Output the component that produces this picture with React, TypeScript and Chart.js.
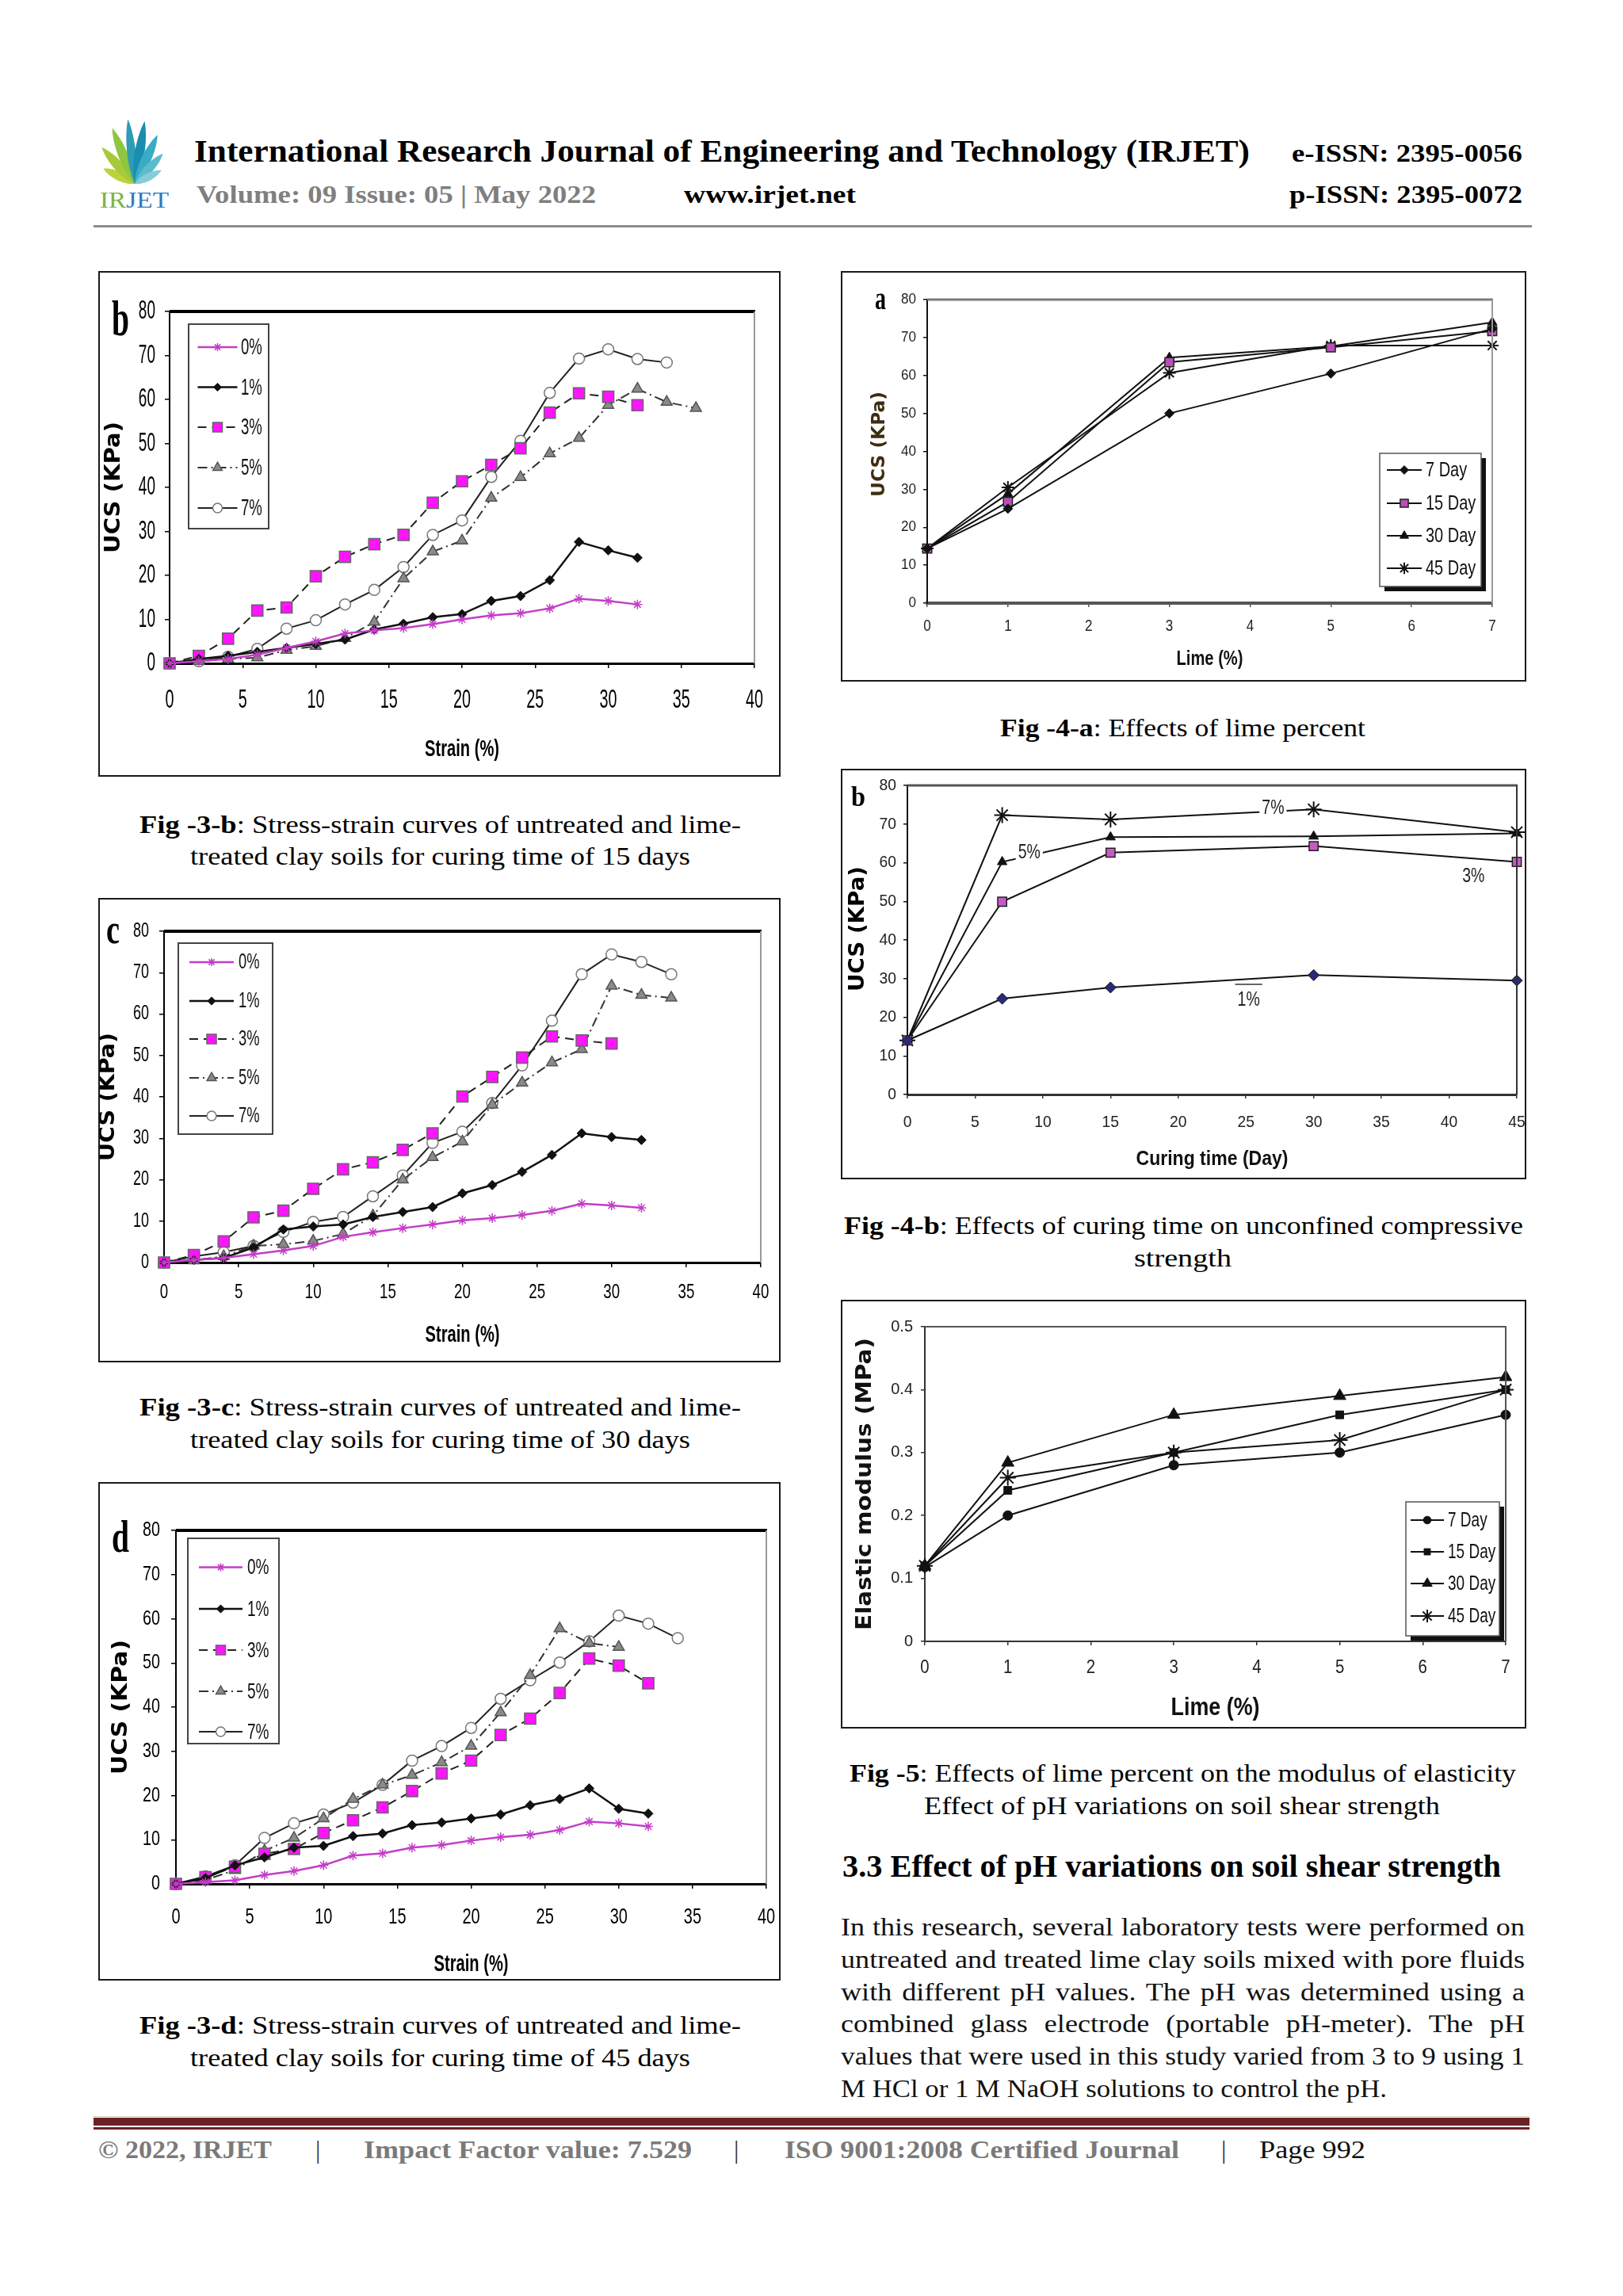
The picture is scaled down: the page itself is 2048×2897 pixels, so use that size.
import React, { useEffect, useLayoutEffect, useRef } from 'react';
import { Chart, registerables } from 'chart.js';

Chart.register(...registerables);

const LSANS = "'Liberation Sans', 'Noto Sans', sans-serif";
const BOLDSANS = "'DejaVu Sans', 'Liberation Sans', sans-serif";
const SERIF = "'Liberation Serif', 'DejaVu Serif', serif";

// ---------------- DATA ----------------
const STRAIN = [0, 2, 4, 6, 8, 10, 12, 14, 16, 18, 20, 22, 24, 26, 28, 30, 32, 34, 36];
const LIME_SERIES = ['0%', '1%', '3%', '5%', '7%'];

// Fig 3-b (15 days)
const F3B_0 = [0, 0.5, 1, 2, 3.5, 5, 6.8, 7.5, 8, 8.9, 10, 10.9, 11.4, 12.5, 14.7, 14.2, 13.4];
const F3B_1 = [0, 1, 1.7, 2.6, 3.5, 4.4, 5.4, 7.7, 9, 10.5, 11.2, 14.2, 15.3, 18.9, 27.6, 25.7, 24];
const F3B_3 = [0, 1.7, 5.6, 12, 12.7, 19.8, 24.2, 27.1, 29.2, 36.5, 41.4, 45.1, 48.9, 57, 61.4, 60.6, 58.7];
const F3B_5 = [0, 0.5, 1, 1.3, 3, 3.9, 5.7, 9.4, 19.3, 25.4, 27.9, 37.6, 42.3, 47.7, 51.2, 58.7, 62.4, 59.4, 58];
const F3B_7 = [0, 0.5, 1.5, 3.3, 7.9, 9.8, 13.4, 16.7, 21.9, 29.2, 32.5, 42.4, 50.6, 61.5, 69.3, 71.4, 69.2, 68.4];

// Fig 3-c (30 days)
const F3C_0 = [0, 0.6, 1.1, 2, 2.9, 4, 6.2, 7.3, 8.3, 9.2, 10.2, 10.7, 11.5, 12.5, 14.2, 13.8, 13.2];
const F3C_1 = [0, 0.6, 1.1, 3.6, 8, 8.7, 9.2, 11, 12.2, 13.4, 16.7, 18.7, 21.9, 26, 31.2, 30.3, 29.6];
const F3C_3 = [0, 1.8, 5.1, 10.9, 12.5, 17.8, 22.5, 24.2, 27.2, 31.2, 40.1, 44.8, 49.5, 54.6, 53.6, 52.9];
const F3C_5 = [0, 0.5, 1.5, 4, 4.4, 5.2, 6.9, 11.3, 20, 25.4, 29.2, 38.1, 43.4, 48.3, 51.5, 66.8, 64.6, 63.9];
const F3C_7 = [0, 1.5, 2.5, 4, 7.4, 9.8, 11, 16, 21, 28.9, 31.6, 38.5, 47.6, 58.4, 69.6, 74.4, 72.6, 69.6];

// Fig 3-d (45 days)
const F3D_0 = [0, 0.4, 0.8, 2, 2.9, 4.2, 6.4, 6.9, 8.2, 8.8, 9.8, 10.6, 11.1, 12.2, 14.1, 13.7, 13];
const F3D_1 = [0, 1.3, 4.2, 6, 8.2, 8.6, 10.8, 11.4, 13.3, 13.9, 14.8, 15.7, 17.8, 19.2, 21.6, 17, 15.9];
const F3D_3 = [0, 1.5, 3.9, 6.8, 7.9, 11.5, 14.4, 17.3, 21, 25, 27.9, 33.7, 37.4, 43.2, 51, 49.4, 45.4];
const F3D_5 = [0, 0.9, 3.1, 7.5, 10.4, 14.8, 19.2, 22.4, 24.6, 27.5, 31.2, 38.8, 47.2, 57.8, 54.5, 53.6];
const F3D_7 = [0, 1.7, 4.2, 10.4, 13.7, 15.7, 18.4, 22.4, 27.9, 31.2, 35.3, 41.9, 46.1, 50.1, 54.9, 60.7, 58.9, 55.6];

// Fig 4-a (UCS vs lime)
const LIME_X = [0, 1, 3, 5, 7];
const DAY_SERIES = ['7 Day', '15 Day', '30 Day', '45 Day'];
const F4A_7 = [14.4, 24.9, 50, 60.5, 72.3];
const F4A_15 = [14.4, 26.7, 63.5, 67.4, 71.7];
const F4A_30 = [14.4, 28.8, 64.7, 67.7, 74];
const F4A_45 = [14.4, 30.5, 60.7, 67.9, 67.9];

// Fig 4-b (UCS vs curing time)
const CURING_X = [0, 7, 15, 30, 45];
const CURING_SERIES = ['1%', '3%', '5%', '7%'];
const F4B_1 = [14, 24.8, 27.7, 30.9, 29.5];
const F4B_3 = [14, 49.9, 62.6, 64.3, 60.2];
const F4B_5 = [14, 60.2, 66.6, 66.8, 67.6];
const F4B_7 = [14, 72.3, 71.2, 73.8, 67.9];
const F4B_NOTE_TEXT = ['7%', '5%', '3%', '1%'];
const F4B_NOTE_X = [27, 9, 41.8, 25.2];
const F4B_NOTE_Y = [74, 62.6, 56.3, 24.4];

// Fig 5 (elastic modulus vs lime)
const F5_7 = [0.118, 0.2, 0.28, 0.3, 0.36];
const F5_15 = [0.12, 0.24, 0.3, 0.36, 0.4];
const F5_30 = [0.12, 0.284, 0.36, 0.39, 0.42];
const F5_45 = [0.12, 0.26, 0.3, 0.32, 0.4];

// ---------------- STYLES ----------------
type Sty = { color: string; width: number; dash: number[]; point: string; r: number; fill: string; stroke: string; pw: number };
const FIG3_STY: Sty[] = [
  { color: '#c23ec6', width: 2.5, dash: [], point: 'star', r: 6, fill: '#c23ec6', stroke: '#c23ec6', pw: 1.5 },
  { color: '#111', width: 2.5, dash: [], point: 'rectRot', r: 6, fill: '#111', stroke: '#111', pw: 1 },
  { color: '#222', width: 2, dash: [11, 7], point: 'rect', r: 10, fill: '#ff14ff', stroke: '#666', pw: 1.5 },
  { color: '#333', width: 2, dash: [12, 5, 2, 5], point: 'triangle', r: 8, fill: '#8a8a8a', stroke: '#555', pw: 1.5 },
  { color: '#222', width: 2, dash: [], point: 'circle', r: 7, fill: '#fff', stroke: '#777', pw: 1.5 },
];
const FIG4A_STY: Sty[] = [
  { color: '#111', width: 2, dash: [], point: 'rectRot', r: 6, fill: '#111', stroke: '#111', pw: 1 },
  { color: '#111', width: 2, dash: [], point: 'rect', r: 8, fill: '#b84fb8', stroke: '#222', pw: 1.5 },
  { color: '#111', width: 2, dash: [], point: 'triangle', r: 7, fill: '#111', stroke: '#111', pw: 1 },
  { color: '#111', width: 2, dash: [], point: 'star', r: 8, fill: '#111', stroke: '#111', pw: 2 },
];
const FIG4B_STY: Sty[] = [
  { color: '#111', width: 2, dash: [], point: 'rectRot', r: 7, fill: '#2a2a7a', stroke: '#111', pw: 1 },
  { color: '#111', width: 2, dash: [], point: 'rect', r: 8, fill: '#c65ac6', stroke: '#222', pw: 1.5 },
  { color: '#111', width: 2, dash: [], point: 'triangle', r: 7, fill: '#111', stroke: '#111', pw: 1 },
  { color: '#111', width: 2, dash: [], point: 'star', r: 10, fill: '#111', stroke: '#111', pw: 2 },
];
const FIG5_STY: Sty[] = [
  { color: '#111', width: 2, dash: [], point: 'circle', r: 6, fill: '#111', stroke: '#111', pw: 1 },
  { color: '#111', width: 2, dash: [], point: 'rect', r: 7, fill: '#111', stroke: '#111', pw: 1 },
  { color: '#111', width: 2, dash: [], point: 'triangle', r: 9, fill: '#111', stroke: '#111', pw: 1 },
  { color: '#111', width: 2, dash: [], point: 'star', r: 10, fill: '#111', stroke: '#111', pw: 2 },
];

function mkSets(xs: number[], ys: number[][], labels: string[], sty: Sty[]) {
  return ys.map((vals, i) => ({
    label: labels[i],
    data: vals.map((v, j) => ({ x: xs[j], y: v })),
    borderColor: sty[i].color,
    borderWidth: sty[i].width,
    borderDash: sty[i].dash,
    pointStyle: sty[i].point,
    pointRadius: sty[i].r,
    pointBackgroundColor: sty[i].fill,
    pointBorderColor: sty[i].stroke,
    pointBorderWidth: sty[i].pw,
    fill: false,
    tension: 0,
    showLine: true,
    clip: false,
  }));
}

// ---------------- PLUGINS ----------------
function drawMarker(ctx: any, style: string, x: number, y: number, r: number, fill: string, stroke: string, lw: number) {
  ctx.save();
  ctx.setLineDash([]);
  ctx.fillStyle = fill;
  ctx.strokeStyle = stroke;
  ctx.lineWidth = lw;
  ctx.beginPath();
  const s = r * Math.SQRT1_2;
  if (style === 'circle') {
    ctx.arc(x, y, r, 0, Math.PI * 2);
    ctx.fill(); ctx.stroke();
  } else if (style === 'rect') {
    ctx.rect(x - s, y - s, 2 * s, 2 * s);
    ctx.fill(); ctx.stroke();
  } else if (style === 'rectRot') {
    ctx.moveTo(x - r, y); ctx.lineTo(x, y - r); ctx.lineTo(x + r, y); ctx.lineTo(x, y + r); ctx.closePath();
    ctx.fill(); ctx.stroke();
  } else if (style === 'triangle') {
    let a = 0;
    ctx.moveTo(x + Math.sin(a) * r, y - Math.cos(a) * r);
    a += (2 * Math.PI) / 3; ctx.lineTo(x + Math.sin(a) * r, y - Math.cos(a) * r);
    a += (2 * Math.PI) / 3; ctx.lineTo(x + Math.sin(a) * r, y - Math.cos(a) * r);
    ctx.closePath();
    ctx.fill(); ctx.stroke();
  } else if (style === 'star') {
    ctx.moveTo(x - r, y); ctx.lineTo(x + r, y);
    ctx.moveTo(x, y - r); ctx.lineTo(x, y + r);
    ctx.moveTo(x - s, y - s); ctx.lineTo(x + s, y + s);
    ctx.moveTo(x + s, y - s); ctx.lineTo(x - s, y + s);
    ctx.stroke();
  }
  ctx.restore();
}

const framePlugin = {
  id: 'frame',
  afterDatasetsDraw(chart: any, _a: any, o: any) {
    if (!o || !o.top) return;
    const { left, right, top, bottom } = chart.chartArea;
    const ctx = chart.ctx;
    ctx.save();
    ctx.setLineDash([]);
    ctx.strokeStyle = o.top[0]; ctx.lineWidth = o.top[1];
    ctx.beginPath(); ctx.moveTo(left, top); ctx.lineTo(right + o.right[1] / 2, top); ctx.stroke();
    ctx.strokeStyle = o.right[0]; ctx.lineWidth = o.right[1];
    ctx.beginPath(); ctx.moveTo(right, top); ctx.lineTo(right, bottom); ctx.stroke();
    ctx.restore();
  },
};

// Draws tick labels (condensed, at the library's tick positions) and axis titles
const axisTextPlugin = {
  id: 'axisText',
  afterDraw(chart: any, _a: any, o: any) {
    if (!o) return;
    const ctx = chart.ctx;
    const ca = chart.chartArea;
    ['x', 'y'].forEach((k) => {
      const sc = chart.scales[k];
      const tk = o.ticks[k];
      ctx.save();
      ctx.font = tk.font; ctx.fillStyle = tk.color; ctx.textBaseline = 'middle';
      ctx.textAlign = k === 'x' ? 'center' : 'right';
      sc.ticks.forEach((t: any) => {
        const p = sc.getPixelForValue(t.value);
        const label = String(t.label);
        ctx.save();
        if (k === 'x') ctx.translate(p, ca.bottom + tk.off);
        else ctx.translate(ca.left - tk.off, p);
        ctx.scale(tk.sx, 1);
        ctx.fillText(label, 0, 0);
        ctx.restore();
      });
      ctx.restore();

      const t = o.titles[k];
      ctx.save();
      ctx.font = t.font; ctx.fillStyle = t.color; ctx.textAlign = 'center'; ctx.textBaseline = 'middle';
      const m = ctx.measureText(t.text).width;
      const sx = t.w ? t.w / m : 1;
      if (k === 'x') {
        ctx.translate((ca.left + ca.right) / 2 + (t.d || 0), t.c);
      } else {
        ctx.translate(t.c, (ca.top + ca.bottom) / 2 + (t.d || 0));
        ctx.rotate(-Math.PI / 2);
      }
      ctx.scale(sx, 1);
      ctx.fillText(t.text, 0, 0);
      ctx.restore();
    });
  },
};

const legendPlugin = {
  id: 'boxLegend',
  afterDraw(chart: any, _a: any, o: any) {
    if (!o || !o.show) return;
    const ctx = chart.ctx;
    const ca = chart.chartArea;
    const x0 = ca.left + o.dx, y0 = ca.top + o.dy;
    ctx.save();
    if (o.shadow) { ctx.fillStyle = '#111'; ctx.fillRect(x0 + o.shadow, y0 + o.shadow, o.w, o.h); }
    ctx.fillStyle = '#fff'; ctx.fillRect(x0, y0, o.w, o.h);
    ctx.strokeStyle = o.border; ctx.lineWidth = o.bw; ctx.strokeRect(x0, y0, o.w, o.h);
    chart.data.datasets.forEach((ds: any, i: number) => {
      const y = y0 + o.rows[i];
      ctx.save();
      ctx.strokeStyle = ds.borderColor; ctx.lineWidth = ds.borderWidth; ctx.setLineDash(ds.borderDash || []);
      ctx.beginPath(); ctx.moveTo(x0 + o.lx0, y); ctx.lineTo(x0 + o.lx1, y); ctx.stroke();
      ctx.restore();
      drawMarker(ctx, ds.pointStyle, x0 + (o.lx0 + o.lx1) / 2, y, ds.pointRadius * o.ms, ds.pointBackgroundColor, ds.pointBorderColor, ds.pointBorderWidth);
      ctx.save();
      ctx.fillStyle = o.color; ctx.font = o.font; ctx.textBaseline = 'middle'; ctx.textAlign = 'left';
      ctx.translate(x0 + o.tx, y + 1);
      ctx.scale(o.lsx, 1);
      ctx.fillText(ds.label, 0, 0);
      ctx.restore();
    });
    ctx.restore();
  },
};

const notesPlugin = {
  id: 'notes',
  afterDatasetsDraw(chart: any, _a: any, o: any) {
    if (!o || !o.items || !o.items.length) return;
    const ctx = chart.ctx;
    const xs = chart.scales.x, ys = chart.scales.y;
    ctx.save();
    ctx.font = o.font; ctx.textAlign = 'center'; ctx.textBaseline = 'middle';
    o.items.forEach((it: any) => {
      const px = xs.getPixelForValue(it.x), py = ys.getPixelForValue(it.y);
      const w = ctx.measureText(it.text).width * o.sx;
      if (it.bg) { ctx.fillStyle = '#fff'; ctx.fillRect(px - w / 2 - 3, py - o.size * 0.55, w + 6, o.size * 1.1); }
      ctx.save();
      ctx.fillStyle = o.color;
      ctx.translate(px, py);
      ctx.scale(o.sx, 1);
      ctx.fillText(it.text, 0, 0);
      ctx.restore();
      if (it.over) {
        ctx.strokeStyle = '#333'; ctx.lineWidth = 1.5;
        ctx.beginPath(); ctx.moveTo(px - w / 2 - 3, py - o.size * 0.8); ctx.lineTo(px + w / 2 + 3, py - o.size * 0.8); ctx.stroke();
      }
    });
    ctx.restore();
  },
};

// ---------------- CHART SPECS ----------------
type Axis = {
  min: number; max: number; step: number; fmt?: (v: number) => string;
  tickSize: number; tickSx: number; tickOff: number; tl: number; border: [string, number]; tickColor: string;
  title: string; titleFont: string; titleColor: string; titleC: number; titleW: number; titleD?: number;
};
type Spec = {
  id: string; box: [number, number, number, number]; plot: [number, number, number, number];
  x: Axis; y: Axis; datasets: any[]; frame: any; legend?: any; notes?: any;
};

function buildConfig(s: Spec): any {
  const [L, T0, W, H] = s.box;
  const [pl, pt, pr, pb] = s.plot;
  const yw = pl - L;
  const xh = H - (pb - T0);
  const axis = (a: Axis, isX: boolean) => ({
    type: 'linear',
    position: isX ? 'bottom' : 'left',
    min: a.min,
    max: a.max,
    ticks: {
      stepSize: a.step, autoSkip: false, maxRotation: 0, minRotation: 0, padding: 4, color: 'rgba(0,0,0,0)',
      font: { family: LSANS, size: a.tickSize, lineHeight: 1 },
      callback: (v: number) => (a.fmt ? a.fmt(v) : String(Math.round(v * 1000) / 1000)),
    },
    grid: { display: true, drawOnChartArea: false, drawTicks: true, tickLength: a.tl, color: a.border[0], lineWidth: 1.5 },
    border: { display: true, color: a.border[0], width: a.border[1] },
    title: { display: false },
    afterFit: (sc: any) => {
      if (isX) sc.height = xh; else sc.width = yw;
      sc.paddingLeft = 0; sc.paddingRight = 0; sc.paddingTop = 0; sc.paddingBottom = 0;
    },
  });
  const tickOpt = (a: Axis) => ({ font: `${a.tickSize}px ${LSANS}`, color: a.tickColor, sx: a.tickSx, off: a.tickOff });
  const titleOpt = (a: Axis, c: number) => ({ text: a.title, font: a.titleFont, color: a.titleColor, c, w: a.titleW, d: a.titleD || 0 });
  return {
    type: 'scatter',
    data: { datasets: s.datasets },
    options: {
      responsive: false,
      animation: false,
      devicePixelRatio: 1,
      events: [],
      layout: { padding: { left: 0, top: pt - T0, right: L + W - pr, bottom: 0 } },
      scales: { x: axis(s.x, true), y: axis(s.y, false) },
      plugins: {
        legend: { display: false },
        tooltip: { enabled: false },
        frame: s.frame,
        axisText: {
          ticks: { x: tickOpt(s.x), y: tickOpt(s.y) },
          titles: { x: titleOpt(s.x, s.x.titleC - T0), y: titleOpt(s.y, s.y.titleC - L) },
        },
        boxLegend: s.legend || { show: false },
        notes: s.notes || { items: [] },
      },
    },
    plugins: [framePlugin, axisTextPlugin, legendPlugin, notesPlugin],
  };
}

const fig3X = (titleC: number, size: number, sx: number, off: number): Axis => ({
  min: 0, max: 40, step: 5, tickSize: size, tickSx: sx, tickOff: off, tl: 6, border: ['#000', 3], tickColor: '#000',
  title: 'Strain (%)', titleFont: `bold 30px ${LSANS}`, titleColor: '#000', titleC, titleW: 94,
});
const fig3Y = (titleC: number, size: number, w: number, tsize: number, sx: number, off: number): Axis => ({
  min: 0, max: 80, step: 10, tickSize: tsize, tickSx: sx, tickOff: off, tl: 6, border: ['#000', 2], tickColor: '#000',
  title: 'UCS (KPa)', titleFont: `bold ${size}px ${BOLDSANS}`, titleColor: '#000', titleC, titleW: w,
});
const fig3Legend = (dx: number, dy: number, w: number, h: number, rows: number[], lx0: number, lx1: number, tx: number, fs: number, lsx: number) => ({
  show: true, dx, dy, w, h, rows, lx0, lx1, tx, ms: 0.85, border: '#444', bw: 2, shadow: 0, color: '#111',
  font: `${fs}px ${LSANS}`, lsx,
});
const FIG3_FRAME = { top: ['#000', 4], right: ['#9a9a9a', 2] };

const SPECS: Spec[] = [
  {
    id: 'f3b', box: [124, 342, 861, 638], plot: [214, 393, 952, 837],
    x: fig3X(946, 33, 0.6, 47), y: fig3Y(144, 26, 166, 34, 0.56, 18),
    datasets: mkSets(STRAIN, [F3B_0, F3B_1, F3B_3, F3B_5, F3B_7], LIME_SERIES, FIG3_STY),
    frame: FIG3_FRAME,
    legend: fig3Legend(24, 16, 101, 258, [29, 79.5, 130, 181, 232], 11.5, 61.5, 66, 30, 0.62),
  },
  {
    id: 'f3c', box: [124, 1133, 861, 586], plot: [207, 1175, 960, 1593],
    x: fig3X(1685, 26, 0.72, 38), y: fig3Y(137, 26, 162, 25, 0.72, 19),
    datasets: mkSets(STRAIN, [F3C_0, F3C_1, F3C_3, F3C_5, F3C_7], LIME_SERIES, FIG3_STY),
    frame: FIG3_FRAME,
    legend: fig3Legend(18, 15, 119, 241, [24, 73, 121, 170, 218], 14, 70, 76, 27, 0.68),
  },
  {
    id: 'f3d', box: [124, 1870, 861, 629], plot: [222, 1931, 967, 2377],
    x: fig3X(2479, 27, 0.74, 43), y: fig3Y(153, 27, 170, 26, 0.76, 20),
    datasets: mkSets(STRAIN, [F3D_0, F3D_1, F3D_3, F3D_5, F3D_7], LIME_SERIES, FIG3_STY),
    frame: FIG3_FRAME,
    legend: fig3Legend(15, 10, 115, 259, [36.5, 89, 141, 193, 244], 14, 69, 75, 28, 0.68),
  },
  {
    id: 'f4a', box: [1061, 342, 865, 518], plot: [1170, 378, 1883, 761],
    x: {
      min: 0, max: 7, step: 1, tickSize: 20, tickSx: 0.85, tickOff: 29, tl: 5, border: ['#555', 4], tickColor: '#222',
      title: 'Lime (%)', titleFont: `bold 25px ${LSANS}`, titleColor: '#111', titleC: 832, titleW: 84,
    },
    y: {
      min: 0, max: 80, step: 10, tickSize: 19, tickSx: 0.9, tickOff: 14, tl: 5, border: ['#111', 2], tickColor: '#222',
      title: 'UCS (KPa)', titleFont: `bold 23px ${BOLDSANS}`, titleColor: '#3d2e12', titleC: 1110, titleW: 133, titleD: -9,
    },
    datasets: mkSets(LIME_X, [F4A_7, F4A_15, F4A_30, F4A_45], DAY_SERIES, FIG4A_STY),
    frame: { top: ['#7a7a7a', 3], right: ['#999', 2] },
    legend: {
      show: true, dx: 571, dy: 194, w: 128, h: 168, rows: [21, 63, 104, 145], lx0: 9, lx1: 53, tx: 58, ms: 0.9,
      border: '#555', bw: 1.5, shadow: 6, color: '#111', font: `25px ${LSANS}`, lsx: 0.8,
    },
  },
  {
    id: 'f4b', box: [1061, 970, 865, 518], plot: [1145, 991, 1917, 1381],
    x: {
      min: 0, max: 45, step: 5, tickSize: 21, tickSx: 0.92, tickOff: 35, tl: 5, border: ['#333', 3], tickColor: '#222',
      title: 'Curing time (Day)', titleFont: `bold 26px ${LSANS}`, titleColor: '#111', titleC: 1463, titleW: 192,
    },
    y: {
      min: 0, max: 80, step: 10, tickSize: 21, tickSx: 0.92, tickOff: 14, tl: 5, border: ['#111', 2], tickColor: '#222',
      title: 'UCS (KPa)', titleFont: `bold 27px ${BOLDSANS}`, titleColor: '#000', titleC: 1083, titleW: 158, titleD: -14,
    },
    datasets: mkSets(CURING_X, [F4B_1, F4B_3, F4B_5, F4B_7], CURING_SERIES, FIG4B_STY),
    frame: { top: ['#555', 3], right: ['#333', 2] },
    notes: {
      font: `25px ${LSANS}`, size: 25, sx: 0.78, color: '#222',
      items: F4B_NOTE_TEXT.map((t, i) => ({ text: t, x: F4B_NOTE_X[i], y: F4B_NOTE_Y[i], bg: i < 2, over: i === 3 })),
    },
  },
  {
    id: 'f5', box: [1061, 1640, 865, 541], plot: [1167, 1674, 1900, 2071],
    x: {
      min: 0, max: 7, step: 1, tickSize: 24, tickSx: 0.85, tickOff: 33, tl: 5, border: ['#333', 2], tickColor: '#222',
      title: 'Lime (%)', titleFont: `bold 31px ${LSANS}`, titleColor: '#111', titleC: 2155, titleW: 112,
    },
    y: {
      min: 0, max: 0.5, step: 0.1, fmt: (v: number) => (Math.abs(v) < 1e-9 ? '0' : v.toFixed(1)),
      tickSize: 20, tickSx: 1, tickOff: 15, tl: 5, border: ['#333', 2], tickColor: '#222',
      title: 'Elastic modulus (MPa)', titleFont: `bold 27px ${BOLDSANS}`, titleColor: '#111', titleC: 1092, titleW: 369,
    },
    datasets: mkSets(LIME_X, [F5_7, F5_15, F5_30, F5_45], DAY_SERIES, FIG5_STY),
    frame: { top: ['#555', 2], right: ['#555', 2] },
    legend: {
      show: true, dx: 607, dy: 221, w: 118, h: 169, rows: [23, 63, 103, 144], lx0: 6, lx1: 48, tx: 53, ms: 0.8,
      border: '#555', bw: 1.5, shadow: 6, color: '#111', font: `25px ${LSANS}`, lsx: 0.76,
    },
  },
];

// ---------------- COMPONENTS ----------------
function ChartPanel({ spec }: { spec: Spec }) {
  const ref = useRef<HTMLCanvasElement>(null);
  useEffect(() => {
    const c = new Chart(ref.current as HTMLCanvasElement, buildConfig(spec));
    return () => c.destroy();
  }, [spec]);
  const [L, T0, W, H] = spec.box;
  return (
    <>
      <canvas ref={ref} width={W} height={H} style={{ position: 'absolute', left: L, top: T0, width: W, height: H }} />
      <div style={{ position: 'absolute', left: L, top: T0, width: W, height: H, border: '2px solid #1a1a1a', boxSizing: 'border-box', pointerEvents: 'none' }} />
    </>
  );
}

type TP = {
  x: number; b: number; size: number; w?: number; bold?: boolean; color?: string; family?: string;
  justify?: boolean; kmax?: number; children: React.ReactNode;
};
function T({ x, b, size, w, bold, color = '#000', family = SERIF, justify, kmax = 1, children }: TP) {
  const ref = useRef<HTMLDivElement>(null);
  useLayoutEffect(() => {
    const el = ref.current;
    if (!el || !w) return;
    el.style.transform = 'none';
    el.style.wordSpacing = '0px';
    const nat = el.getBoundingClientRect().width;
    if (nat <= 0) return;
    if (justify) {
      const k = Math.min(w / nat, kmax);
      const spaces = (el.textContent || '').split(' ').length - 1;
      el.style.transform = `scaleX(${k})`;
      if (spaces > 0 && w / k > nat) el.style.wordSpacing = `${(w / k - nat) / spaces}px`;
    } else {
      el.style.transform = `scaleX(${w / nat})`;
    }
  }, [w, justify, kmax]);
  return (
    <div
      ref={ref}
      style={{
        position: 'absolute', left: x, top: b - 0.8375 * size, fontSize: size, lineHeight: `${size}px`,
        fontFamily: family, fontWeight: bold ? 700 : 400, color, whiteSpace: 'pre', transformOrigin: '0 0',
      }}
    >
      {children}
    </div>
  );
}

function Logo() {
  const leaves = [
    { a: -64, len: 44, w: 9, c: '#bcd33c' },
    { a: -42, len: 62, w: 10, c: '#a8ca3a' },
    { a: -22, len: 76, w: 10, c: '#8fc640' },
    { a: -6, len: 82, w: 9, c: '#2d9cb4' },
    { a: 9, len: 80, w: 10, c: '#1a8db0' },
    { a: 25, len: 68, w: 10, c: '#39abc2' },
    { a: 43, len: 52, w: 9, c: '#5cbccc' },
    { a: 63, len: 38, w: 8, c: '#86cdd6' },
  ];
  return (
    <svg style={{ position: 'absolute', left: 118, top: 148 }} width={110} height={124}>
      {leaves.map((l, i) => (
        <path
          key={i}
          d={`M0 0 C ${-l.w} ${-l.len * 0.35}, ${-l.w * 0.6} ${-l.len * 0.8}, 0 ${-l.len} C ${l.w * 0.6} ${-l.len * 0.8}, ${l.w} ${-l.len * 0.35}, 0 0 Z`}
          fill={l.c}
          transform={`translate(52 84) rotate(${l.a})`}
        />
      ))}
      <text x={8} y={114} fontFamily={SERIF} fontSize={30} textLength={87} lengthAdjust="spacingAndGlyphs">
        <tspan fill="#7bb542">IR</tspan>
        <tspan fill="#2f79c1">JET</tspan>
      </text>
    </svg>
  );
}

const PARA = [
  'In this research, several laboratory tests were performed on',
  'untreated and treated lime clay soils mixed with pore fluids',
  'with different pH values. The pH was determined using a',
  'combined glass electrode (portable pH-meter). The pH',
  'values that were used in this study varied from 3 to 9 using 1',
  'M HCl or 1 M NaOH solutions to control the pH.',
];
const PARA_BASE = [2442, 2483, 2524, 2564, 2605, 2646];

export default function App() {
  return (
    <div style={{ position: 'absolute', left: 0, top: 0, width: 2048, height: 2897, background: '#fff', overflow: 'hidden' }}>
      {/* Header */}
      <Logo />
      <T x={245} b={204} size={40} w={1332} bold>International Research Journal of Engineering and Technology (IRJET)</T>
      <T x={1630} b={204} size={32} w={291} bold>e-ISSN: 2395-0056</T>
      <T x={248} b={256} size={32} w={504} bold color="#7f7f7f">Volume: 09 Issue: 05 | May 2022</T>
      <T x={863} b={256} size={32} w={217} bold>www.irjet.net</T>
      <T x={1627} b={256} size={32} w={294} bold>p-ISSN: 2395-0072</T>
      <div style={{ position: 'absolute', left: 118, top: 284, width: 1815, height: 3, background: '#8c8c8c' }} />

      {/* Charts */}
      {SPECS.map((s) => (
        <ChartPanel key={s.id} spec={s} />
      ))}

      {/* Panel letters */}
      <T x={141} b={424} size={64} w={22} bold>b</T>
      <T x={134} b={1191} size={52} w={17} bold>c</T>
      <T x={141} b={1959} size={58} w={22} bold>d</T>
      <T x={1104} b={390} size={40} w={14} bold>a</T>
      <T x={1074} b={1017} size={36} w={18} bold>b</T>

      {/* Captions left */}
      <T x={176} b={1051} size={32} w={759}><b>Fig -3-b</b>: Stress-strain curves of untreated and lime-</T>
      <T x={240} b={1091} size={32} w={631}>treated clay soils for curing time of 15 days</T>
      <T x={176} b={1786} size={32} w={759}><b>Fig -3-c</b>: Stress-strain curves of untreated and lime-</T>
      <T x={240} b={1827} size={32} w={631}>treated clay soils for curing time of 30 days</T>
      <T x={176} b={2566} size={32} w={759}><b>Fig -3-d</b>: Stress-strain curves of untreated and lime-</T>
      <T x={240} b={2607} size={32} w={631}>treated clay soils for curing time of 45 days</T>

      {/* Captions right */}
      <T x={1262} b={929} size={32} w={461}><b>Fig -4-a</b>: Effects of lime percent</T>
      <T x={1065} b={1557} size={32} w={857}><b>Fig -4-b</b>: Effects of curing time on unconfined compressive</T>
      <T x={1431} b={1598} size={32} w={123}>strength</T>
      <T x={1072} b={2248} size={32} w={841}><b>Fig -5</b>: Effects of lime percent on the modulus of elasticity</T>
      <T x={1166} b={2289} size={32} w={651}>Effect of pH variations on soil shear strength</T>

      {/* Section */}
      <T x={1063} b={2368} size={40} w={831} bold>3.3 Effect of pH variations on soil shear strength</T>
      {PARA.map((line, i) => (
        <T key={i} x={1061} b={PARA_BASE[i]} size={32} w={i < 5 ? 863 : 689} justify={i < 5} kmax={1.13} color="#111">{line}</T>
      ))}

      {/* Footer */}
      <div style={{ position: 'absolute', left: 118, top: 2670, width: 1812, height: 1, background: '#d9c9b3' }} />
      <div style={{ position: 'absolute', left: 118, top: 2672, width: 1812, height: 10, background: '#6b2226' }} />
      <div style={{ position: 'absolute', left: 118, top: 2684, width: 1812, height: 3, background: '#6b2226' }} />
      <T x={124} b={2723} size={32} w={219} bold color="#7a7a7a">© 2022, IRJET</T>
      <T x={398} b={2723} size={32} color="#333">|</T>
      <T x={459} b={2723} size={32} w={414} bold color="#7a7a7a">Impact Factor value: 7.529</T>
      <T x={926} b={2723} size={32} color="#333">|</T>
      <T x={990} b={2723} size={32} w={498} bold color="#7a7a7a">ISO 9001:2008 Certified Journal</T>
      <T x={1541} b={2723} size={32} color="#333">|</T>
      <T x={1589} b={2723} size={32} w={134} color="#111">Page 992</T>
    </div>
  );
}
